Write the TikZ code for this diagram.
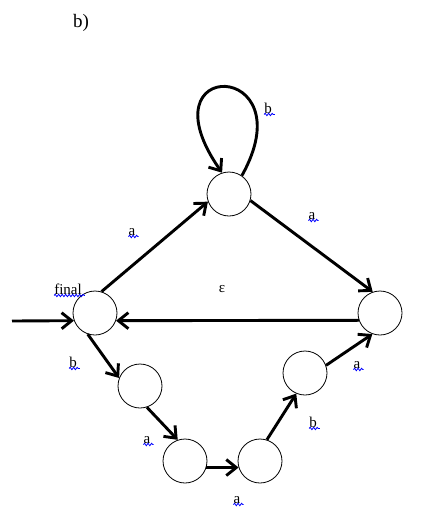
\documentclass[tikz,border=0pt]{standalone}
\usepackage{fontspec}
\setmainfont{Liberation Serif}
\usetikzlibrary{arrows.meta,decorations.pathmorphing}
\begin{document}
\begin{tikzpicture}[x=1pt,y=-1pt,
  state/.style={circle,draw,line width=0.8pt,minimum size=44pt,inner sep=0pt},
  edge/.style={line width=2.9pt,-{Straight Barb[length=10pt,width=16pt,line width=2.9pt]}},
  lbl/.style={font=\fontsize{15}{17}\selectfont,inner sep=0pt,anchor=base},
  squig/.style={blue,line width=0.8pt,decorate,decoration={snake,amplitude=1.2pt,segment length=3.5pt}}]
\useasboundingbox (0,0) rectangle (424,517);
% states
\node[state] (T) at (229,194) {};
\node[state] (L) at (95,313) {};
\node[state] (R) at (380,313) {};
\node[state] (B1) at (140,386) {};
\node[state] (B2) at (185,461) {};
\node[state] (B3) at (260,461) {};
\node[state] (B4) at (305,373) {};
\coordinate (in) at (12,321);
% edges
\draw[edge] (in) -- (L.200);
\draw[edge] (L.73) -- (T.200);
\draw[edge] (T.343) -- (R.109);
\draw[edge] (R.199) -- (L.340);
\draw[edge] (L.251) -- (B1.159);
\draw[edge] (B1.288) -- (B2.109);
\draw[edge] (B2.343) -- (B3.197);
\draw[edge] (B3.72) -- (B4.247);
\draw[edge] (B4.20) -- (R.250);
\draw[edge] (T.55) .. controls +(65,-116) and +(-82,-117) .. (T.108);
% labels
\node[lbl,font=\fontsize{19}{21}\selectfont] (title) at (81,27) {b)};
\node[lbl] (lb0) at (268,113) {b};
\node[lbl] (la1) at (132,235) {a};
\node[lbl] (la2) at (312,219) {a};
\node[lbl] (eps) at (222,292) {ε};
\node[lbl] (fin) at (68,294) {final};
\node[lbl] (lb1) at (73,367) {b};
\node[lbl] (la3) at (147,443) {a};
\node[lbl] (la4) at (237,503) {a};
\node[lbl] (lb2) at (313,427) {b};
\node[lbl] (la5) at (357,368) {a};
% spell-check squiggles
\foreach \n in {lb0,la1,la2,lb1,la3,la4,lb2,la5,fin}
  \draw[squig] ([yshift=-1.5pt]\n.base west) -- ([xshift=3pt,yshift=-1.5pt]\n.base east);
\end{tikzpicture}
\end{document}
